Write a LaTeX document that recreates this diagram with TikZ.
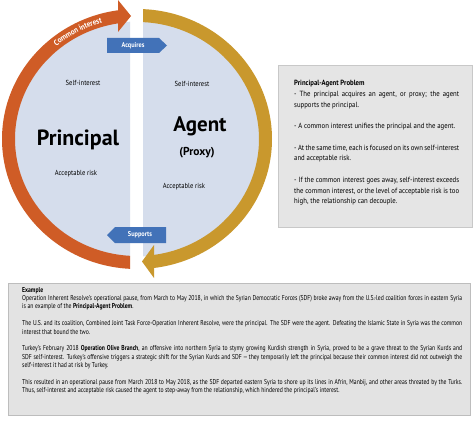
\documentclass[tikz,border=0pt]{standalone}
\usepackage{fontspec}
\setmainfont{PT Sans}
\newfontfamily\cnd[FakeStretch=0.9]{PT Sans}
\newfontfamily\cndx[FakeStretch=0.8]{PT Sans}
\usetikzlibrary{decorations.text}
\definecolor{orangec}{HTML}{CF5C26}
\definecolor{goldc}{HTML}{C9982D}
\definecolor{diskc}{HTML}{D5DDEC}
\definecolor{arrc}{HTML}{4272B8}
\definecolor{boxfill}{HTML}{E5E5E5}
\definecolor{boxline}{HTML}{C8C8C8}
\definecolor{exfill}{HTML}{E3E3E3}
\definecolor{exline}{HTML}{BDBDBD}
\tikzset{
  lbl/.style={font=\cnd\fontsize{7.3}{8}\selectfont, inner sep=0pt},
  bigtxt/.style={font=\bfseries\fontsize{22}{24}\selectfont, inner sep=0pt, anchor=base},
  bline/.style={font=\cnd\fontsize{7.5}{9}\selectfont, anchor=base west, inner sep=0pt},
  eline/.style={font=\cndx\fontsize{7.1}{8}\selectfont, anchor=base west, inner sep=0pt},
  arrtxt/.style={font=\cnd\bfseries\fontsize{7}{8}\selectfont, text=white, inner sep=0pt},
  bluearrow/.style={fill=arrc},
}
\begin{document}
\begin{tikzpicture}[x=1pt,y=1pt]
\useasboundingbox[fill=white] (0,0) rectangle (474,424);
% disk halves
\begin{scope}
  \clip (0,0) rectangle (130,424) (143,0) rectangle (300,424);
  \fill[diskc] (137,285) ellipse [x radius=122.5, y radius=117.5];
\end{scope}
% orange ring
\begin{scope}
  \clip (0,0) -- (130,0) -- (130,285) -- (118,285) -- (118,424) -- (0,424) -- cycle;
  \fill[orangec, even odd rule] (137,285) ellipse [x radius=135, y radius=130]
        (137,285) ellipse [x radius=122, y radius=117];
\end{scope}
\fill[orangec] (118,424) -- (131,408) -- (118,392) -- cycle;
% gold ring
\begin{scope}
  \clip (143,424) -- (300,424) -- (300,0) -- (154,0) -- (154,285) -- (143,285) -- cycle;
  \fill[goldc, even odd rule] (137,285) ellipse [x radius=135, y radius=130]
        (137,285) ellipse [x radius=122, y radius=117];
\end{scope}
\fill[goldc] (154,179) -- (142,162.5) -- (154,146) -- cycle;
% common interest text
\path[decorate, decoration={text along path, text align=center, raise=-2.6pt,
   text color=white, text={|\cnd\bfseries\fontsize{8}{8}\selectfont|Common interest}}]
   (137,285) ++(140:128.5 and 123.5) arc [start angle=140, end angle=96, x radius=128.5, y radius=123.5];
% blue arrows
\fill[bluearrow] (107,386) -- (159,386) -- (167,378.5) -- (159,371) -- (107,371) -- cycle;
\node[arrtxt] (acq) at (133,378.5) {Acquires};
\fill[bluearrow] (166,197) -- (115,197) -- (107,189) -- (115,181) -- (166,181) -- cycle;
\node[arrtxt] (sup) at (140,189) {Supports};
% circle labels
\node[lbl] (ps) at (83,341) {Self-interest};
\node[lbl] (as) at (192,340) {Self-interest};
\node[bigtxt] (pr) at (78,279) {Principal};
\node[bigtxt, font=\bfseries\fontsize{21}{24}\selectfont] (ag) at (200,293) {Agent};
\node[bigtxt, font=\bfseries\fontsize{11.5}{13}\selectfont] (px) at (197,269) {(Proxy)};
\node[lbl] (pa) at (76,250) {Acceptable risk};
\node[lbl] (aa) at (184,237) {Acceptable risk};
% right box
\draw[boxline, fill=boxfill, line width=0.8pt] (278,197) rectangle (472,359);
\node[bline] (b1) at (294,338) {\bfseries Principal-Agent Problem};
\node[bline] (b2) at (294,327.3) {\makebox[165pt][s]{- The principal acquires an agent, or proxy; the agent}};
\node[bline] (b3) at (294,316.6) {supports the principal.};
\node[bline] (b4) at (294,295.2) {- A common interest unifies the principal and the agent.};
\node[bline] (b5) at (294,273.8) {\makebox[165pt][s]{- At the same time, each is focused on its own self-interest}};
\node[bline] (b6) at (294,263.1) {and acceptable risk.};
\node[bline] (b7) at (294,241.7) {\makebox[165pt][s]{- If the common interest goes away, self-interest exceeds}};
\node[bline] (b8) at (294,231) {\makebox[165pt][s]{the common interest, or the level of acceptable risk is too}};
\node[bline] (b9) at (294,220.3) {high, the relationship can decouple.};
% example box
\draw[exline, fill=exfill, line width=0.8pt] (8,9) rectangle (470,141);
\node[eline] (e0) at (22,132) {\bfseries Example};
\node[eline] (e1) at (22,123.6) {\makebox[440pt][s]{Operation Inherent Resolve’s operational pause, from March to May 2018, in which the Syrian Democratic Forces (SDF) broke away from the U.S.-led coalition forces in eastern Syria}};
\node[eline] (e2) at (22,115.2) {is an example of the \textbf{Principal-Agent Problem}.};
\node[eline] (e3) at (22,98.4) {\makebox[440pt][s]{The U.S. and its coalition, Combined Joint Task Force-Operation Inherent Resolve, were the principal. The SDF were the agent. Defeating the Islamic State in Syria was the common}};
\node[eline] (e4) at (22,90) {interest that bound the two.};
\node[eline] (e5) at (22,73.2) {\makebox[440pt][s]{Turkey’s February 2018 \textbf{Operation Olive Branch}, an offensive into northern Syria to stymy growing Kurdish strength in Syria, proved to be a grave threat to the Syrian Kurds and}};
\node[eline] (e6) at (22,64.8) {\makebox[440pt][s]{SDF self-interest. Turkey’s offensive triggers a strategic shift for the Syrian Kurds and SDF\,—\,they temporarily left the principal because their common interest did not outweigh the}};
\node[eline] (e7) at (22,56.4) {self-interest it had at risk by Turkey.};
\node[eline] (e8) at (22,39.6) {\makebox[440pt][s]{This resulted in an operational pause from March 2018 to May 2018, as the SDF departed eastern Syria to shore up its lines in Afrin, Manbij, and other areas threated by the Turks.}};
\node[eline] (e9) at (22,31.2) {Thus, self-interest and acceptable risk caused the agent to step-away from the relationship, which hindered the principal’s interest.};
\end{tikzpicture}
\end{document}
